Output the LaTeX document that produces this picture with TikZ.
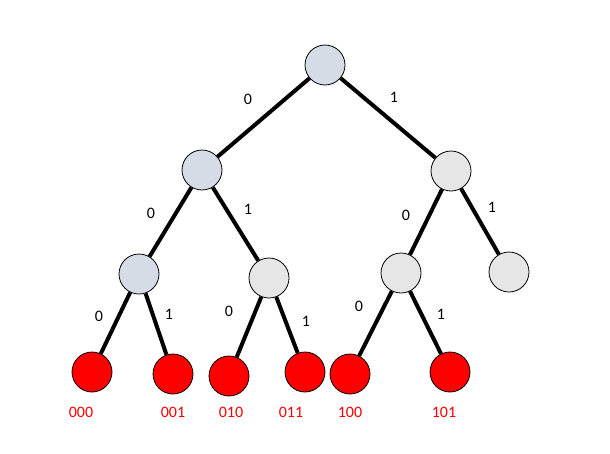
\documentclass[tikz,border=0pt]{standalone}
\usepackage{fontspec}
\setmainfont{Carlito}
\begin{document}
\begin{tikzpicture}[x=1pt,y=-1pt,
  nd/.style={circle,draw=black,line width=0.8pt,minimum size=40pt,inner sep=0pt},
  bl/.style={nd,fill={rgb,255:red,214;green,220;blue,229}},
  gr/.style={nd,fill={rgb,255:red,231;green,230;blue,230}},
  rd/.style={nd,fill=red},
  ed/.style={line width=4pt},
  el/.style={font=\fontsize{16}{18}\selectfont},
  cl/.style={font=\fontsize{16}{18}\selectfont,text=red}]
\useasboundingbox (0,0) rectangle (610,453);
\node[bl] (r) at (325,65) {};
\node[bl] (a) at (202,170) {};
\node[gr] (b) at (451,171) {};
\node[bl] (aa) at (139,274) {};
\node[gr] (ab) at (269,278) {};
\node[gr] (ba) at (401,273) {};
\node[gr] (bb) at (509,272) {};
\node[rd] (l1) at (92,372) {};
\node[rd] (l2) at (173,374) {};
\node[rd] (l3) at (229,376) {};
\node[rd] (l4) at (305,372) {};
\node[rd] (l5) at (350,374) {};
\node[rd] (l6) at (450,372) {};
\draw[ed] (r)--(a); \draw[ed] (r)--(b);
\draw[ed] (a)--(aa); \draw[ed] (a)--(ab);
\draw[ed] (b)--(ba); \draw[ed] (b)--(bb);
\draw[ed] (aa)--(l1); \draw[ed] (aa)--(l2);
\draw[ed] (ab)--(l3); \draw[ed] (ab)--(l4);
\draw[ed] (ba)--(l5); \draw[ed] (ba)--(l6);
\node[el] (e1) at (248,99) {0}; \node[el] (e2) at (394,97) {1};
\node[el] (e3) at (151,213) {0}; \node[el] (e4) at (248,209) {1};
\node[el] (e5) at (406,215) {0}; \node[el] (e6) at (492,207) {1};
\node[el] (e7) at (99,316) {0}; \node[el] (e8) at (169,314) {1};
\node[el] (e9) at (229,311) {0}; \node[el] (e10) at (306,321) {1};
\node[el] (e11) at (359,306) {0}; \node[el] (e12) at (441,314) {1};
\node[cl] (c1) at (81,412) {000};
\node[cl] (c2) at (173,412) {001};
\node[cl] (c3) at (231,412) {010};
\node[cl] (c4) at (291,412) {011};
\node[cl] (c5) at (350,412) {100};
\node[cl] (c6) at (444,412) {101};
\end{tikzpicture}
\end{document}
